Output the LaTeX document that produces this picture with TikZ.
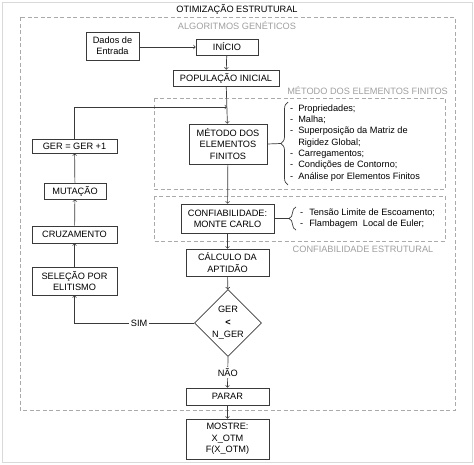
\documentclass[tikz,border=0pt]{standalone}
\usepackage{fontspec}
\setmainfont{Liberation Sans}
\usepackage{xcolor}
\usetikzlibrary{calc}
\usetikzlibrary{shapes,arrows}
\usetikzlibrary{positioning,decorations.pathreplacing}
\definecolor{ln}{HTML}{3A3A3A}
\definecolor{dsh}{HTML}{AAAAAA}
\tikzstyle{bx}=[rectangle, draw=ln, line width=0.7pt, align=center, fill=white, inner sep=0pt]
\tikzstyle{dmd}=[diamond, draw=ln, line width=0.7pt, fill=white, inner sep=0pt, minimum width=67pt, minimum height=67pt]
\tikzstyle{reg}=[draw=dsh, line width=0.8pt, dash pattern=on 4pt off 2.5pt]
\tikzstyle{glab}=[text=gray!75, inner sep=0pt]
\tikzstyle{fl}=[->, draw=ln, line width=0.7pt]
\tikzstyle{brc}=[draw=ln, line width=0.7pt, decorate, decoration={brace, amplitude=7pt}]

\begin{document}
\begin{tikzpicture}[x=1pt, y=-1pt, font=\fontsize{9.2}{11.3}\selectfont]
\useasboundingbox (0,0) rectangle (474,464);
\draw[gray!30, line width=0.8pt] (2,2) rectangle (472,462);
% regions
\node[inner sep=0pt] (tit) at (237,9) {OTIMIZAÇÃO ESTRUTURAL};
\draw[reg] (20,17) rectangle (455,410);
\node[glab] (lag) at (237,26) {ALGORITMOS GENÉTICOS};
\draw[reg] (154,98) rectangle (445,189);
\node[glab, anchor=east] (lmef) at (448,91) {MÉTODO DOS ELEMENTOS FINITOS};
\draw[reg] (154,196) rectangle (445,241);
\node[glab] (lconf) at (363,249) {CONFIABILIDADE ESTRUTURAL};
% main column
\node[bx, minimum width=53pt, minimum height=28pt] (dados) at (112.5,46) {Dados de\\Entrada};
\node[bx, minimum width=62pt, minimum height=16pt] (ini) at (227,47) {INÍCIO};
\node[bx, minimum width=106pt, minimum height=16pt] (pop) at (226,78) {POPULAÇÃO INICIAL};
\node[bx, minimum width=78pt, minimum height=40pt] (mef) at (228,144) {MÉTODO DOS\\ELEMENTOS\\FINITOS};
\node[bx, minimum width=93pt, minimum height=29pt] (conf) at (227.5,218.5) {CONFIABILIDADE:\\MONTE CARLO};
\node[bx, minimum width=83pt, minimum height=27pt] (calc) at (227.5,262.5) {CÁLCULO DA\\APTIDÃO};
\node[dmd, label={[align=center, font=\fontsize{9.2}{12.5}\selectfont]center:GER\\\textbf{<}\\N\_GER}] (dec) at (228,323) {};
\node[bx, minimum width=83pt, minimum height=17pt] (parar) at (227.5,396.5) {PARAR};
\node[bx, minimum width=83pt, minimum height=40pt] (most) at (227.5,439) {MOSTRE:\\X\_OTM\\F(X\_OTM)};
% left column
\node[bx, minimum width=85pt, minimum height=14pt] (ger) at (74.5,146) {GER = GER +1};
\node[bx, minimum width=62pt, minimum height=16pt] (mut) at (75,191) {MUTAÇÃO};
\node[bx, minimum width=85pt, minimum height=17pt] (cruz) at (74.5,234.5) {CRUZAMENTO};
\node[bx, minimum width=85pt, minimum height=28pt] (sel) at (74.5,281) {SELEÇÃO POR\\ELITISMO};
% lists
\node[anchor=west, inner sep=0pt] (lst1) at (290,143) {\begin{tabular}{@{}l@{\hspace{5pt}}l@{}}
- & Propriedades;\\
- & Malha;\\
- & Superposição da Matriz de\\
  & Rigidez Global;\\
- & Carregamentos;\\
- & Condições de Contorno;\\
- & Análise por Elementos Finitos
\end{tabular}};
\node[anchor=west, inner sep=0pt] (lst2) at (300,218.5) {\begin{tabular}{@{}l@{\hspace{6pt}}l@{}}
- & Tensão Limite de Escoamento;\\
- & Flambagem\ \ Local de Euler;
\end{tabular}};
\draw[brc] (288,185) -- (288,102);
\coordinate (b1) at (281,143.5);
\draw[brc] (296,230) -- (296,207);
\coordinate (b2) at (289,218.5);
\draw[ln, line width=0.7pt] (mef.east) -- (b1);
\draw[ln, line width=0.7pt] (conf.east) -- (b2);
% flow
\coordinate (fb) at (227,107);
\draw[fl] (dados.east |- ini) -- (ini.west);
\draw[fl] (ini) -- (pop);
\draw[fl] (pop) -- (mef);
\draw[fl] (ger.north) |- (fb);
\draw[fl] (mef) -- (conf);
\draw[fl] (conf) -- (calc);
\draw[fl] (calc) -- (dec);
\draw[fl] (dec.west) -| node[pos=0.23, fill=white, inner sep=2pt] {SIM} (sel.south);
\draw[fl] (dec.south) -- node[fill=white, inner sep=1.5pt] {NÃO} (parar.north);
\draw[fl] (parar) -- (most);
\draw[fl] (sel) -- (cruz);
\draw[fl] (cruz) -- (mut);
\draw[fl] (mut) -- (ger);
\end{tikzpicture}
\end{document}
